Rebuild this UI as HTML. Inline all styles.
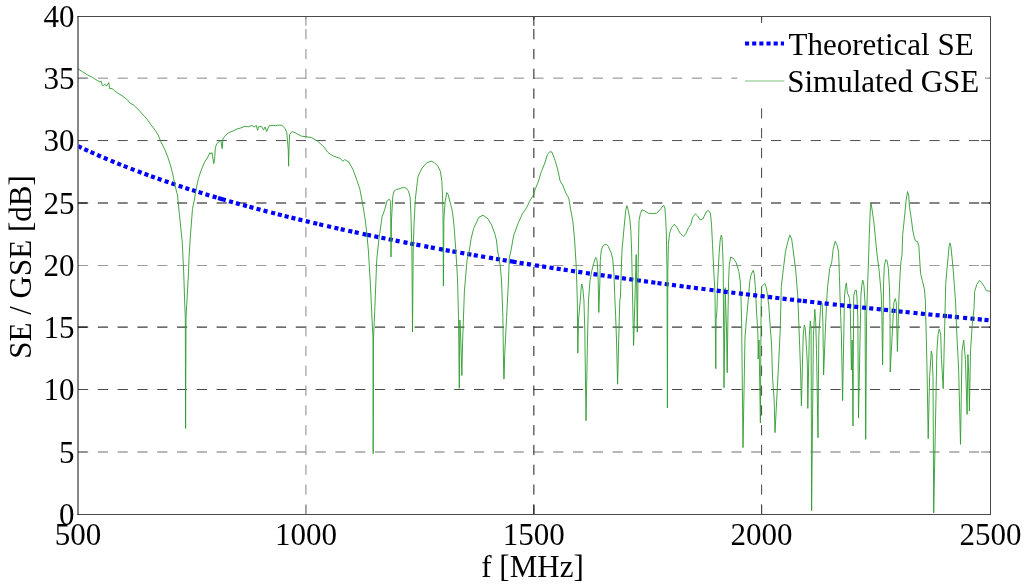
<!DOCTYPE html>
<html><head><meta charset="utf-8"><title>SE / GSE</title>
<style>html,body{margin:0;padding:0;background:#fff;width:1024px;height:587px;overflow:hidden}</style>
</head><body>
<svg width="1024" height="587" viewBox="0 0 1024 587" style="position:absolute;left:0;top:0">
<rect width="1024" height="587" fill="#fff"/>
<g stroke-width="1" stroke-dasharray="10.2 9.6" fill="none"><line x1="78.0" y1="78.15" x2="990.5" y2="78.15" stroke="#868686"/><line x1="78.0" y1="140.55" x2="990.5" y2="140.55" stroke="#4e4e4e"/><line x1="78.0" y1="203.00" x2="990.5" y2="203.00" stroke="#0a0a0a"/><line x1="78.0" y1="265.50" x2="990.5" y2="265.50" stroke="#9a9a9a"/><line x1="78.0" y1="327.10" x2="990.5" y2="327.10" stroke="#0a0a0a"/><line x1="78.0" y1="389.50" x2="990.5" y2="389.50" stroke="#4a4a4a"/><line x1="78.0" y1="452.00" x2="990.5" y2="452.00" stroke="#717171"/><line x1="305.93" y1="514.5" x2="305.93" y2="16.5" stroke="#888888"/><line x1="533.86" y1="514.5" x2="533.86" y2="16.5" stroke="#1a1a1a"/><line x1="761.60" y1="514.5" x2="761.60" y2="16.5" stroke="#444444"/></g>
<path stroke="#868686" stroke-width="1" fill="none" d="M78.0,78.15h9.3M990.5,78.15h-9.3"/>
<path stroke="#4e4e4e" stroke-width="1" fill="none" d="M78.0,140.55h9.3M990.5,140.55h-9.3"/>
<path stroke="#0a0a0a" stroke-width="1" fill="none" d="M78.0,203.00h9.3M990.5,203.00h-9.3"/>
<path stroke="#9a9a9a" stroke-width="1" fill="none" d="M78.0,265.50h9.3M990.5,265.50h-9.3"/>
<path stroke="#0a0a0a" stroke-width="1" fill="none" d="M78.0,327.10h9.3M990.5,327.10h-9.3"/>
<path stroke="#4a4a4a" stroke-width="1" fill="none" d="M78.0,389.50h9.3M990.5,389.50h-9.3"/>
<path stroke="#717171" stroke-width="1" fill="none" d="M78.0,452.00h9.3M990.5,452.00h-9.3"/>
<path stroke="#888888" stroke-width="1" fill="none" d="M305.93,514.5v-9.3M305.93,16.5v9.3"/>
<path stroke="#1a1a1a" stroke-width="1" fill="none" d="M533.86,514.5v-9.3M533.86,16.5v9.3"/>
<path stroke="#444444" stroke-width="1" fill="none" d="M761.60,514.5v-9.3M761.60,16.5v9.3"/>
<defs><clipPath id="cu"><rect x="78.5" y="16.5" width="621.5" height="498"/><rect x="890" y="16.5" width="100" height="498"/></clipPath><clipPath id="co"><rect x="700" y="16.5" width="190" height="498"/></clipPath></defs>
<path clip-path="url(#cu)" fill="none" stroke="#0000ff" stroke-width="4.2" d="M78.00,146.13L81.66,147.85M84.34,149.10L88.06,150.81M90.53,151.92L94.27,153.59M97.12,154.85L100.88,156.48M103.81,157.74L107.59,159.34M110.71,160.64L114.50,162.21M117.30,163.35L121.10,164.88M123.69,165.91L127.51,167.41M130.69,168.64L134.52,170.10M137.78,171.34L141.62,172.78M144.48,173.83L148.33,175.24M150.97,176.19L154.83,177.57M157.67,178.57L161.54,179.93M164.66,181.01L168.54,182.33M171.46,183.32L175.34,184.62M178.65,185.72L182.55,186.99M185.35,187.90L189.25,189.15M192.05,190.04L195.96,191.27M198.54,192.08L202.46,193.29M205.44,194.20L209.36,195.39M212.64,196.37L216.57,197.54M218.03,197.97L221.97,199.12M221.83,199.08L225.77,200.22M229.03,201.16L232.97,202.28M235.93,203.11L239.87,204.21M243.02,205.08L246.98,206.17M249.42,206.83L253.38,207.90M256.52,208.74L260.48,209.79M263.52,210.58L267.48,211.62M271.11,212.55L275.09,213.57M277.81,214.26L281.79,215.26M284.61,215.97L288.59,216.96M291.41,217.65L295.39,218.62M298.41,219.35L302.39,220.31M305.71,221.10L309.70,222.04M313.30,222.89L317.30,223.82M319.20,224.26L323.20,225.18M327.10,226.07L331.10,226.97M334.40,227.71L338.40,228.60M340.70,229.11L344.70,229.99M348.30,230.77L352.30,231.64M354.70,232.15L358.70,233.01M362.59,233.83L366.61,234.68M366.99,234.76L371.01,235.60M374.29,236.28L378.31,237.10M381.39,237.73L385.41,238.55M388.69,239.21L392.71,240.01M395.59,240.59L399.61,241.38M403.49,242.14L407.51,242.93M410.29,243.46L414.31,244.24M416.39,244.64L420.41,245.40M424.29,246.14L428.31,246.89M430.78,247.35L434.82,248.10M438.98,248.87L443.02,249.61M445.68,250.10L449.72,250.83M452.38,251.31L456.42,252.03M460.28,252.72L464.32,253.43M467.28,253.95L471.32,254.66M473.78,255.08L477.82,255.78M481.08,256.34L485.12,257.03M488.98,257.69L493.02,258.37M495.98,258.87L500.02,259.55M502.68,259.99L506.72,260.66M509.58,261.12L513.62,261.79M512.58,261.62L516.62,262.27M519.58,262.75L523.62,263.41M526.88,263.93L530.92,264.57M534.88,265.20L538.93,265.84M542.17,266.35L546.23,266.98M549.47,267.48L553.53,268.11M556.67,268.59L560.73,269.21M563.67,269.66L567.73,270.27M570.97,270.76L575.03,271.37M578.27,271.85L582.33,272.45M585.87,272.97L589.93,273.57M593.47,274.08L597.53,274.67M600.57,275.11L604.63,275.70M607.57,276.12L611.63,276.70M614.97,277.17L619.03,277.74M621.97,278.16L626.03,278.72M629.27,279.17L633.33,279.74M636.87,280.23L640.93,280.78M643.97,281.20L648.03,281.75M651.27,282.19L655.33,282.74M657.47,283.02L661.53,283.57M664.67,283.98L668.73,284.52M671.97,284.95L676.03,285.48M679.57,285.94L683.63,286.47M686.57,286.85L690.63,287.38M693.87,287.79L697.93,288.32M701.47,288.77L705.53,289.28M709.47,289.78L713.53,290.29M716.67,290.68L720.73,291.19M723.67,291.55L727.73,292.05M731.27,292.49L735.33,292.99M738.86,293.42L742.94,293.91M745.86,294.27L749.94,294.76M753.16,295.15L757.24,295.63M760.56,296.03L764.64,296.51M768.06,296.92L772.14,297.40M775.26,297.76L779.34,298.24M782.56,298.61L786.64,299.08M789.96,299.47L794.04,299.94M797.26,300.31L801.34,300.77M802.86,300.94L806.94,301.40M810.16,301.77L814.24,302.23M817.46,302.59L821.54,303.04M824.66,303.39L828.74,303.84M832.76,304.29L836.84,304.74M840.16,305.10L844.24,305.54M847.16,305.86L851.24,306.30M854.16,306.62L858.24,307.06M862.06,307.47L866.14,307.90M869.16,308.22L873.24,308.66M876.66,309.02L880.74,309.45M883.96,309.78L888.04,310.21M891.56,310.58L895.64,311.00M898.56,311.30L902.64,311.72M905.56,312.02L909.64,312.44M913.46,312.83L917.54,313.24M920.86,313.58L924.94,313.99M928.36,314.33L932.44,314.74M935.56,315.06L939.64,315.46M942.86,315.78L946.94,316.18M947.86,316.27L951.94,316.68M954.86,316.96L958.94,317.36M963.06,317.76L967.14,318.16M970.46,318.48L974.54,318.87M977.76,319.18L981.84,319.57M984.46,319.82L988.54,320.21"/>
<polyline fill="none" stroke="#2f9c2f" stroke-width="0.9" stroke-linejoin="round" points="78.0,68.9 82.8,71.9 87.5,74.9 92.3,77.3 97.1,80.3 100.0,82.0 101.2,81.2 102.4,85.6 103.6,85.3 104.8,84.4 106.6,86.0 108.8,82.6 109.6,88.6 112.0,88.6 117.3,92.8 122.1,95.8 126.9,99.3 129.8,102.9 134.0,105.3 138.8,110.1 143.0,114.8 146.5,118.4 150.7,124.4 154.1,128.9 158.2,135.0 160.9,141.8 165.0,150.0 167.7,156.8 170.4,165.0 172.5,173.1 174.5,182.7 176.6,192.2 177.5,195.0 179.5,215.4 182.3,242.7 183.8,275.0 184.6,300.0 185.3,318.0 185.6,428.5 186.0,318.0 187.0,300.0 188.4,275.0 189.1,256.3 190.4,235.9 192.5,208.6 194.3,200.0 196.3,188.1 198.4,178.6 201.1,170.4 204.5,162.2 207.9,156.8 209.9,152.7 211.0,154.1 212.0,152.7 213.8,163.6 214.7,158.1 215.4,147.2 216.8,143.8 219.5,141.1 220.8,140.4 222.2,148.6 222.9,139.1 224.3,137.0 228.3,132.9 233.1,130.9 237.2,128.9 240.0,128.2 245.1,126.2 248.2,126.9 251.8,125.5 254.3,126.9 256.4,125.5 257.6,130.4 258.4,126.9 261.5,126.4 263.5,129.9 265.1,126.9 266.6,131.5 269.1,125.8 273.7,125.3 275.8,125.8 277.8,125.1 281.9,125.3 285.0,128.4 286.8,132.5 287.5,140.7 288.3,150.9 288.6,166.2 289.1,145.8 289.6,134.5 292.1,131.5 296.2,133.3 301.3,136.1 305.4,136.6 311.6,137.6 317.7,141.2 323.8,146.8 327.9,152.4 330.0,154.0 333.5,156.2 340.3,158.4 342.9,161.3 344.6,159.6 348.9,162.1 353.1,169.8 356.5,179.2 359.9,189.4 362.5,203.0 365.0,218.4 366.7,232.0 368.5,252.0 370.2,281.0 372.2,322.0 373.0,338.0 373.2,453.5 373.5,338.0 374.7,311.6 375.9,281.0 376.7,260.4 378.8,240.0 382.1,216.7 384.6,209.8 387.2,200.5 389.4,199.3 390.6,201.3 391.0,257.0 391.5,220.0 392.8,196.2 394.0,191.1 396.6,189.4 400.0,188.6 403.4,187.4 405.9,188.0 408.5,191.1 410.2,197.9 411.0,216.7 411.9,250.0 412.5,332.0 413.2,250.0 414.0,225.0 415.3,199.6 417.8,177.5 419.5,173.0 422.1,168.1 426.8,162.8 431.1,161.1 434.5,162.8 437.9,166.2 440.4,171.3 441.8,180.7 442.5,194.3 443.0,214.7 443.4,286.0 443.9,218.1 445.2,201.1 446.9,192.6 448.1,194.3 450.7,204.5 452.4,211.3 454.1,226.7 455.8,250.0 457.5,278.4 458.5,316.7 459.3,388.3 459.9,320.0 460.8,340.0 461.9,375.5 462.6,342.3 464.4,291.0 467.0,260.5 469.4,250.0 471.1,238.6 473.7,228.4 478.8,217.3 483.0,215.2 488.1,219.0 491.6,225.0 495.0,234.3 496.4,240.0 497.5,250.0 500.2,265.6 501.5,280.0 502.9,317.4 503.4,354.8 503.8,379.0 504.1,379.0 504.7,354.8 506.6,317.4 508.5,280.0 509.3,258.0 511.1,250.0 513.7,235.2 515.0,232.0 518.4,222.6 522.7,213.3 526.9,207.3 529.5,201.3 532.9,196.2 535.4,188.6 538.0,182.6 541.4,171.5 544.8,163.0 547.4,154.5 549.9,151.6 552.1,152.3 555.0,160.4 557.6,169.0 560.1,180.9 562.7,185.1 566.1,193.7 568.7,197.9 570.4,208.1 572.9,221.8 574.6,240.0 576.2,265.6 577.3,300.0 577.8,353.2 578.5,320.0 580.3,300.0 581.4,285.0 581.9,284.0 582.9,289.0 583.9,300.0 584.8,330.0 586.0,420.7 587.5,340.0 588.5,300.0 590.0,280.9 591.6,271.7 593.6,263.5 595.7,257.4 596.7,258.4 597.5,265.6 598.2,280.9 598.8,312.5 599.9,281.1 600.3,260.4 601.3,250.2 602.8,246.1 605.0,244.6 606.3,244.3 608.4,246.3 609.8,250.0 611.0,252.1 612.7,259.0 613.9,272.6 614.7,294.7 615.6,315.2 616.5,340.0 617.6,384.2 618.7,340.0 619.8,300.0 620.4,298.1 621.2,272.6 622.0,250.0 624.1,227.2 625.7,210.9 626.8,205.7 628.1,209.5 629.8,219.0 630.9,231.3 631.6,250.0 633.6,345.5 636.2,254.5 637.3,332.2 638.4,250.0 639.0,220.4 640.4,213.6 642.0,209.8 644.5,210.9 648.6,213.3 652.7,213.6 656.8,213.3 660.8,208.8 663.6,205.1 664.9,208.1 665.6,217.7 666.3,231.3 667.0,270.0 667.4,408.0 667.8,270.0 668.4,244.5 669.5,233.6 671.6,227.5 674.3,224.3 677.0,227.5 680.4,233.6 683.4,236.6 685.9,233.6 688.6,227.5 690.7,224.7 692.7,217.2 695.4,213.8 697.5,215.9 700.2,220.0 702.9,218.9 706.3,211.8 708.4,210.4 710.4,213.2 711.5,224.1 712.5,244.5 713.6,267.2 715.0,294.5 715.8,368.6 716.1,320.0 717.0,310.0 717.7,280.9 719.1,253.6 720.2,240.0 721.3,235.0 722.0,237.7 722.7,251.3 723.2,267.2 724.0,387.7 725.2,287.7 726.5,330.0 727.2,372.7 727.9,320.0 728.6,280.9 729.3,264.5 730.7,257.0 733.4,258.4 736.1,262.5 738.8,271.3 740.2,280.9 740.9,294.5 741.6,320.0 743.0,447.6 745.0,337.0 746.4,320.0 747.7,305.9 749.8,281.3 751.1,274.5 753.2,270.4 754.3,274.5 755.2,285.4 756.6,312.7 757.9,333.1 758.2,359.0 759.0,340.0 760.4,423.0 761.1,305.9 761.6,286.8 763.4,284.8 764.8,283.4 766.1,286.8 767.5,295.0 768.8,305.9 770.2,326.3 771.6,345.0 772.5,377.4 774.1,398.8 775.0,432.6 777.1,392.7 778.7,362.0 780.2,331.3 781.3,286.3 783.4,268.6 785.4,252.2 787.5,242.7 789.8,235.2 791.6,238.6 792.9,248.2 794.3,259.1 795.7,270.0 797.0,286.3 797.7,295.0 798.8,322.2 799.8,349.5 800.7,375.0 801.4,405.8 803.2,335.9 804.3,325.0 805.2,327.7 806.2,342.7 807.3,363.1 807.8,408.4 809.3,335.9 810.3,320.9 811.1,329.0 811.6,510.7 813.4,335.9 814.8,309.3 815.7,322.2 816.5,349.5 818.0,437.8 818.8,335.9 820.9,303.2 822.2,303.2 822.9,322.2 823.6,375.0 825.7,322.2 827.0,295.0 827.7,286.3 829.7,268.6 831.8,261.8 833.1,249.5 835.2,241.3 837.2,245.4 838.6,252.2 839.4,275.4 840.0,295.9 840.7,316.3 841.4,335.0 842.6,400.6 844.5,295.9 845.5,286.3 846.4,282.9 847.3,293.1 848.2,294.5 849.6,298.6 850.3,309.5 851.4,370.0 852.2,340.0 853.0,426.0 853.7,295.9 855.0,290.4 856.4,290.4 857.1,300.0 857.8,316.3 858.5,418.0 860.9,295.9 861.8,285.0 862.8,280.2 863.9,285.0 865.0,302.7 865.7,439.4 866.6,316.3 867.7,282.2 868.7,255.0 869.3,234.5 870.4,207.2 871.1,203.2 872.1,210.0 873.7,220.9 875.1,234.5 876.8,252.2 877.5,258.0 878.9,268.6 880.2,282.2 881.3,295.9 881.9,316.3 882.6,364.8 883.6,282.2 884.3,265.9 885.7,259.8 887.0,260.4 888.4,268.6 889.5,289.1 890.0,309.5 890.2,372.0 893.9,302.7 895.2,298.6 896.3,302.7 897.4,351.5 899.0,295.9 900.0,275.4 900.9,261.8 902.0,255.0 902.7,234.5 904.8,214.1 906.1,200.4 907.5,191.6 908.6,195.0 909.5,207.2 911.6,220.9 912.7,230.0 914.1,236.8 915.4,240.9 917.5,241.6 918.9,246.3 919.5,257.2 920.6,273.6 922.3,280.4 924.3,288.6 925.3,300.0 926.2,334.1 927.0,368.1 928.2,438.7 929.6,376.7 931.3,351.1 932.1,354.5 933.0,376.7 933.7,512.9 936.9,351.1 938.1,334.1 939.3,329.0 940.7,334.1 941.5,359.6 943.2,388.6 944.1,351.1 944.9,317.0 945.7,284.5 946.8,270.9 948.1,257.2 949.1,246.3 949.9,242.9 950.9,246.3 952.0,257.2 953.3,270.9 954.3,284.5 955.6,302.2 956.8,334.1 958.6,368.1 960.5,444.3 962.0,351.1 963.7,340.0 965.4,359.6 966.2,385.2 967.1,414.4 967.9,354.5 968.8,376.7 969.4,411.0 970.5,351.1 972.2,325.6 974.0,308.5 974.7,291.3 976.8,284.5 979.5,280.4 981.5,282.5 984.3,286.5 986.3,290.6 990.0,291.3"/>
<path clip-path="url(#co)" fill="none" stroke="#0000ff" stroke-width="4.2" d="M78.00,146.13L81.66,147.85M84.34,149.10L88.06,150.81M90.53,151.92L94.27,153.59M97.12,154.85L100.88,156.48M103.81,157.74L107.59,159.34M110.71,160.64L114.50,162.21M117.30,163.35L121.10,164.88M123.69,165.91L127.51,167.41M130.69,168.64L134.52,170.10M137.78,171.34L141.62,172.78M144.48,173.83L148.33,175.24M150.97,176.19L154.83,177.57M157.67,178.57L161.54,179.93M164.66,181.01L168.54,182.33M171.46,183.32L175.34,184.62M178.65,185.72L182.55,186.99M185.35,187.90L189.25,189.15M192.05,190.04L195.96,191.27M198.54,192.08L202.46,193.29M205.44,194.20L209.36,195.39M212.64,196.37L216.57,197.54M218.03,197.97L221.97,199.12M221.83,199.08L225.77,200.22M229.03,201.16L232.97,202.28M235.93,203.11L239.87,204.21M243.02,205.08L246.98,206.17M249.42,206.83L253.38,207.90M256.52,208.74L260.48,209.79M263.52,210.58L267.48,211.62M271.11,212.55L275.09,213.57M277.81,214.26L281.79,215.26M284.61,215.97L288.59,216.96M291.41,217.65L295.39,218.62M298.41,219.35L302.39,220.31M305.71,221.10L309.70,222.04M313.30,222.89L317.30,223.82M319.20,224.26L323.20,225.18M327.10,226.07L331.10,226.97M334.40,227.71L338.40,228.60M340.70,229.11L344.70,229.99M348.30,230.77L352.30,231.64M354.70,232.15L358.70,233.01M362.59,233.83L366.61,234.68M366.99,234.76L371.01,235.60M374.29,236.28L378.31,237.10M381.39,237.73L385.41,238.55M388.69,239.21L392.71,240.01M395.59,240.59L399.61,241.38M403.49,242.14L407.51,242.93M410.29,243.46L414.31,244.24M416.39,244.64L420.41,245.40M424.29,246.14L428.31,246.89M430.78,247.35L434.82,248.10M438.98,248.87L443.02,249.61M445.68,250.10L449.72,250.83M452.38,251.31L456.42,252.03M460.28,252.72L464.32,253.43M467.28,253.95L471.32,254.66M473.78,255.08L477.82,255.78M481.08,256.34L485.12,257.03M488.98,257.69L493.02,258.37M495.98,258.87L500.02,259.55M502.68,259.99L506.72,260.66M509.58,261.12L513.62,261.79M512.58,261.62L516.62,262.27M519.58,262.75L523.62,263.41M526.88,263.93L530.92,264.57M534.88,265.20L538.93,265.84M542.17,266.35L546.23,266.98M549.47,267.48L553.53,268.11M556.67,268.59L560.73,269.21M563.67,269.66L567.73,270.27M570.97,270.76L575.03,271.37M578.27,271.85L582.33,272.45M585.87,272.97L589.93,273.57M593.47,274.08L597.53,274.67M600.57,275.11L604.63,275.70M607.57,276.12L611.63,276.70M614.97,277.17L619.03,277.74M621.97,278.16L626.03,278.72M629.27,279.17L633.33,279.74M636.87,280.23L640.93,280.78M643.97,281.20L648.03,281.75M651.27,282.19L655.33,282.74M657.47,283.02L661.53,283.57M664.67,283.98L668.73,284.52M671.97,284.95L676.03,285.48M679.57,285.94L683.63,286.47M686.57,286.85L690.63,287.38M693.87,287.79L697.93,288.32M701.47,288.77L705.53,289.28M709.47,289.78L713.53,290.29M716.67,290.68L720.73,291.19M723.67,291.55L727.73,292.05M731.27,292.49L735.33,292.99M738.86,293.42L742.94,293.91M745.86,294.27L749.94,294.76M753.16,295.15L757.24,295.63M760.56,296.03L764.64,296.51M768.06,296.92L772.14,297.40M775.26,297.76L779.34,298.24M782.56,298.61L786.64,299.08M789.96,299.47L794.04,299.94M797.26,300.31L801.34,300.77M802.86,300.94L806.94,301.40M810.16,301.77L814.24,302.23M817.46,302.59L821.54,303.04M824.66,303.39L828.74,303.84M832.76,304.29L836.84,304.74M840.16,305.10L844.24,305.54M847.16,305.86L851.24,306.30M854.16,306.62L858.24,307.06M862.06,307.47L866.14,307.90M869.16,308.22L873.24,308.66M876.66,309.02L880.74,309.45M883.96,309.78L888.04,310.21M891.56,310.58L895.64,311.00M898.56,311.30L902.64,311.72M905.56,312.02L909.64,312.44M913.46,312.83L917.54,313.24M920.86,313.58L924.94,313.99M928.36,314.33L932.44,314.74M935.56,315.06L939.64,315.46M942.86,315.78L946.94,316.18M947.86,316.27L951.94,316.68M954.86,316.96L958.94,317.36M963.06,317.76L967.14,318.16M970.46,318.48L974.54,318.87M977.76,319.18L981.84,319.57M984.46,319.82L988.54,320.21"/>
<path fill="none" stroke="#4a4a4a" stroke-width="1" d="M77.5,16.5H990.5M77.5,514.5H990.5M990.5,16.0V515.0"/>
<path fill="none" stroke="#111" stroke-width="1" d="M78.0,16.0V515.0"/>
<rect x="737.3" y="23" width="247.8" height="80" fill="#fff"/>
<line x1="745" y1="43.5" x2="784" y2="43.5" stroke="#0000ff" stroke-width="4.2" stroke-dasharray="4.1 3.062"/>
<line x1="745" y1="81" x2="784.3" y2="81" stroke="#7bc17b" stroke-width="1"/>
<g font-family="&quot;Liberation Serif&quot;, serif" font-size="31.0" fill="#000">
<text x="788.6" y="54.7">Theoretical SE</text>
<text x="787.2" y="92.1">Simulated GSE</text>
<text x="74.5" y="525.10" text-anchor="end">0</text>
<text x="74.5" y="462.50" text-anchor="end">5</text>
<text x="74.5" y="400.05" text-anchor="end">10</text>
<text x="74.5" y="337.50" text-anchor="end">15</text>
<text x="74.5" y="276.00" text-anchor="end">20</text>
<text x="74.5" y="213.50" text-anchor="end">25</text>
<text x="74.5" y="151.10" text-anchor="end">30</text>
<text x="74.5" y="88.60" text-anchor="end">35</text>
<text x="74.5" y="27.10" text-anchor="end">40</text>
<text x="78.00" y="544.7" text-anchor="middle">500</text>
<text x="305.90" y="544.7" text-anchor="middle">1000</text>
<text x="533.80" y="544.7" text-anchor="middle">1500</text>
<text x="761.60" y="544.7" text-anchor="middle">2000</text>
<text x="990.50" y="544.7" text-anchor="middle">2500</text>
<text x="532.5" y="576.5" text-anchor="middle">f [MHz]</text>
<text transform="translate(30.5,267) rotate(-90)" text-anchor="middle">SE / GSE [dB]</text>
</g>
</svg>
</body></html>
